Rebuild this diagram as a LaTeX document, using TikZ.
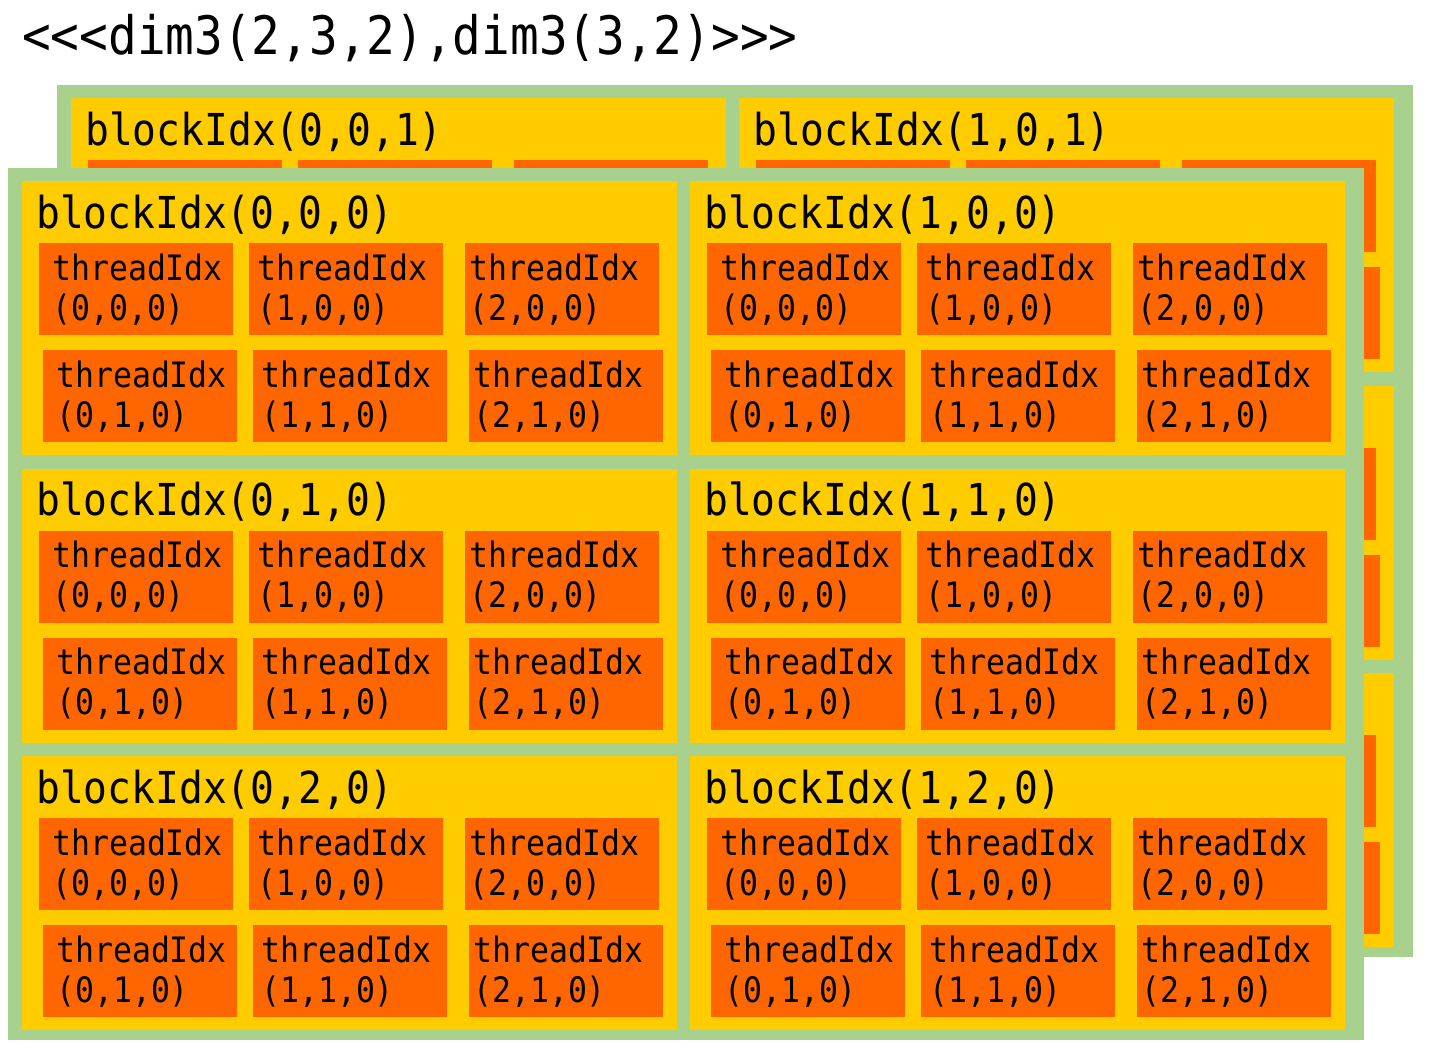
\documentclass[tikz,border=0pt]{standalone}
\usepackage{fontspec}
\setmonofont[FakeStretch=0.9]{DejaVu Sans Mono}
\definecolor{grn}{RGB}{169,209,142}
\definecolor{yel}{RGB}{255,204,0}
\definecolor{org}{RGB}{255,102,0}
\tikzset{
 layerbox/.style={fill=grn, draw=none, anchor=north west, minimum width=1356pt, minimum height=872pt, inner sep=0pt},
 blockbox/.style={fill=yel, draw=none, anchor=north west, minimum width=655pt, minimum height=274pt, inner sep=0pt},
 threadbox/.style={fill=org, draw=none, anchor=north west, minimum width=194pt, minimum height=92pt, inner sep=0pt},
 threadtext/.style={align=left, font=\ttfamily\fontsize{35}{40}\selectfont},
 blocklabel/.style={anchor=base west, inner sep=0pt, font=\ttfamily\fontsize{44}{48}\selectfont},
 titlelabel/.style={anchor=base west, inner sep=0pt, font=\ttfamily\fontsize{53}{56}\selectfont},
}
\begin{document}
\begin{tikzpicture}[x=1pt, y=-1pt]
\useasboundingbox[fill=white] (0,0) rectangle (1430,1049);
\node[titlelabel] (title) at (22,55) {<<<dim3(2,3,2),dim3(3,2)>>>};
% back layer (z=1) then front layer (z=0)
\foreach \z/\dx/\dy in {1/49/-83, 0/0/0} {
  \node[layerbox] (grid\z) at ({8+\dx},{168+\dy}) {};
  \foreach \bx in {0,1} {
    \foreach \by in {0,1,2} {
      \node[blockbox] (b\bx\by\z) at ({22+\dx+668*\bx},{181+\dy+287.5*\by}) {};
      \node[blocklabel] (bl\bx\by\z) at ({36+\dx+668*\bx},{228+\dy+287.5*\by}) {blockIdx(\bx,\by,\z)};
      \foreach \tx/\ox/\ins in {0/17/13, 1/227/8, 2/443/4} {
        \foreach \ty/\sh/\oy in {0/0/62, 1/4/169} {
          \ifnum\z=0
            \node[threadbox, text width={194pt-2*\ins pt}, inner xsep=\ins pt, threadtext]
              (t\z\bx\by\tx\ty) at ({22+\dx+668*\bx+\ox+\sh},{181+\dy+287.5*\by+\oy}) {threadIdx\\(\tx,\ty,0)};
          \else
            \node[threadbox] (t\z\bx\by\tx\ty) at ({22+\dx+668*\bx+\ox+\sh},{181+\dy+287.5*\by+\oy}) {};
          \fi
        }
      }
    }
  }
}
\end{tikzpicture}
\end{document}
